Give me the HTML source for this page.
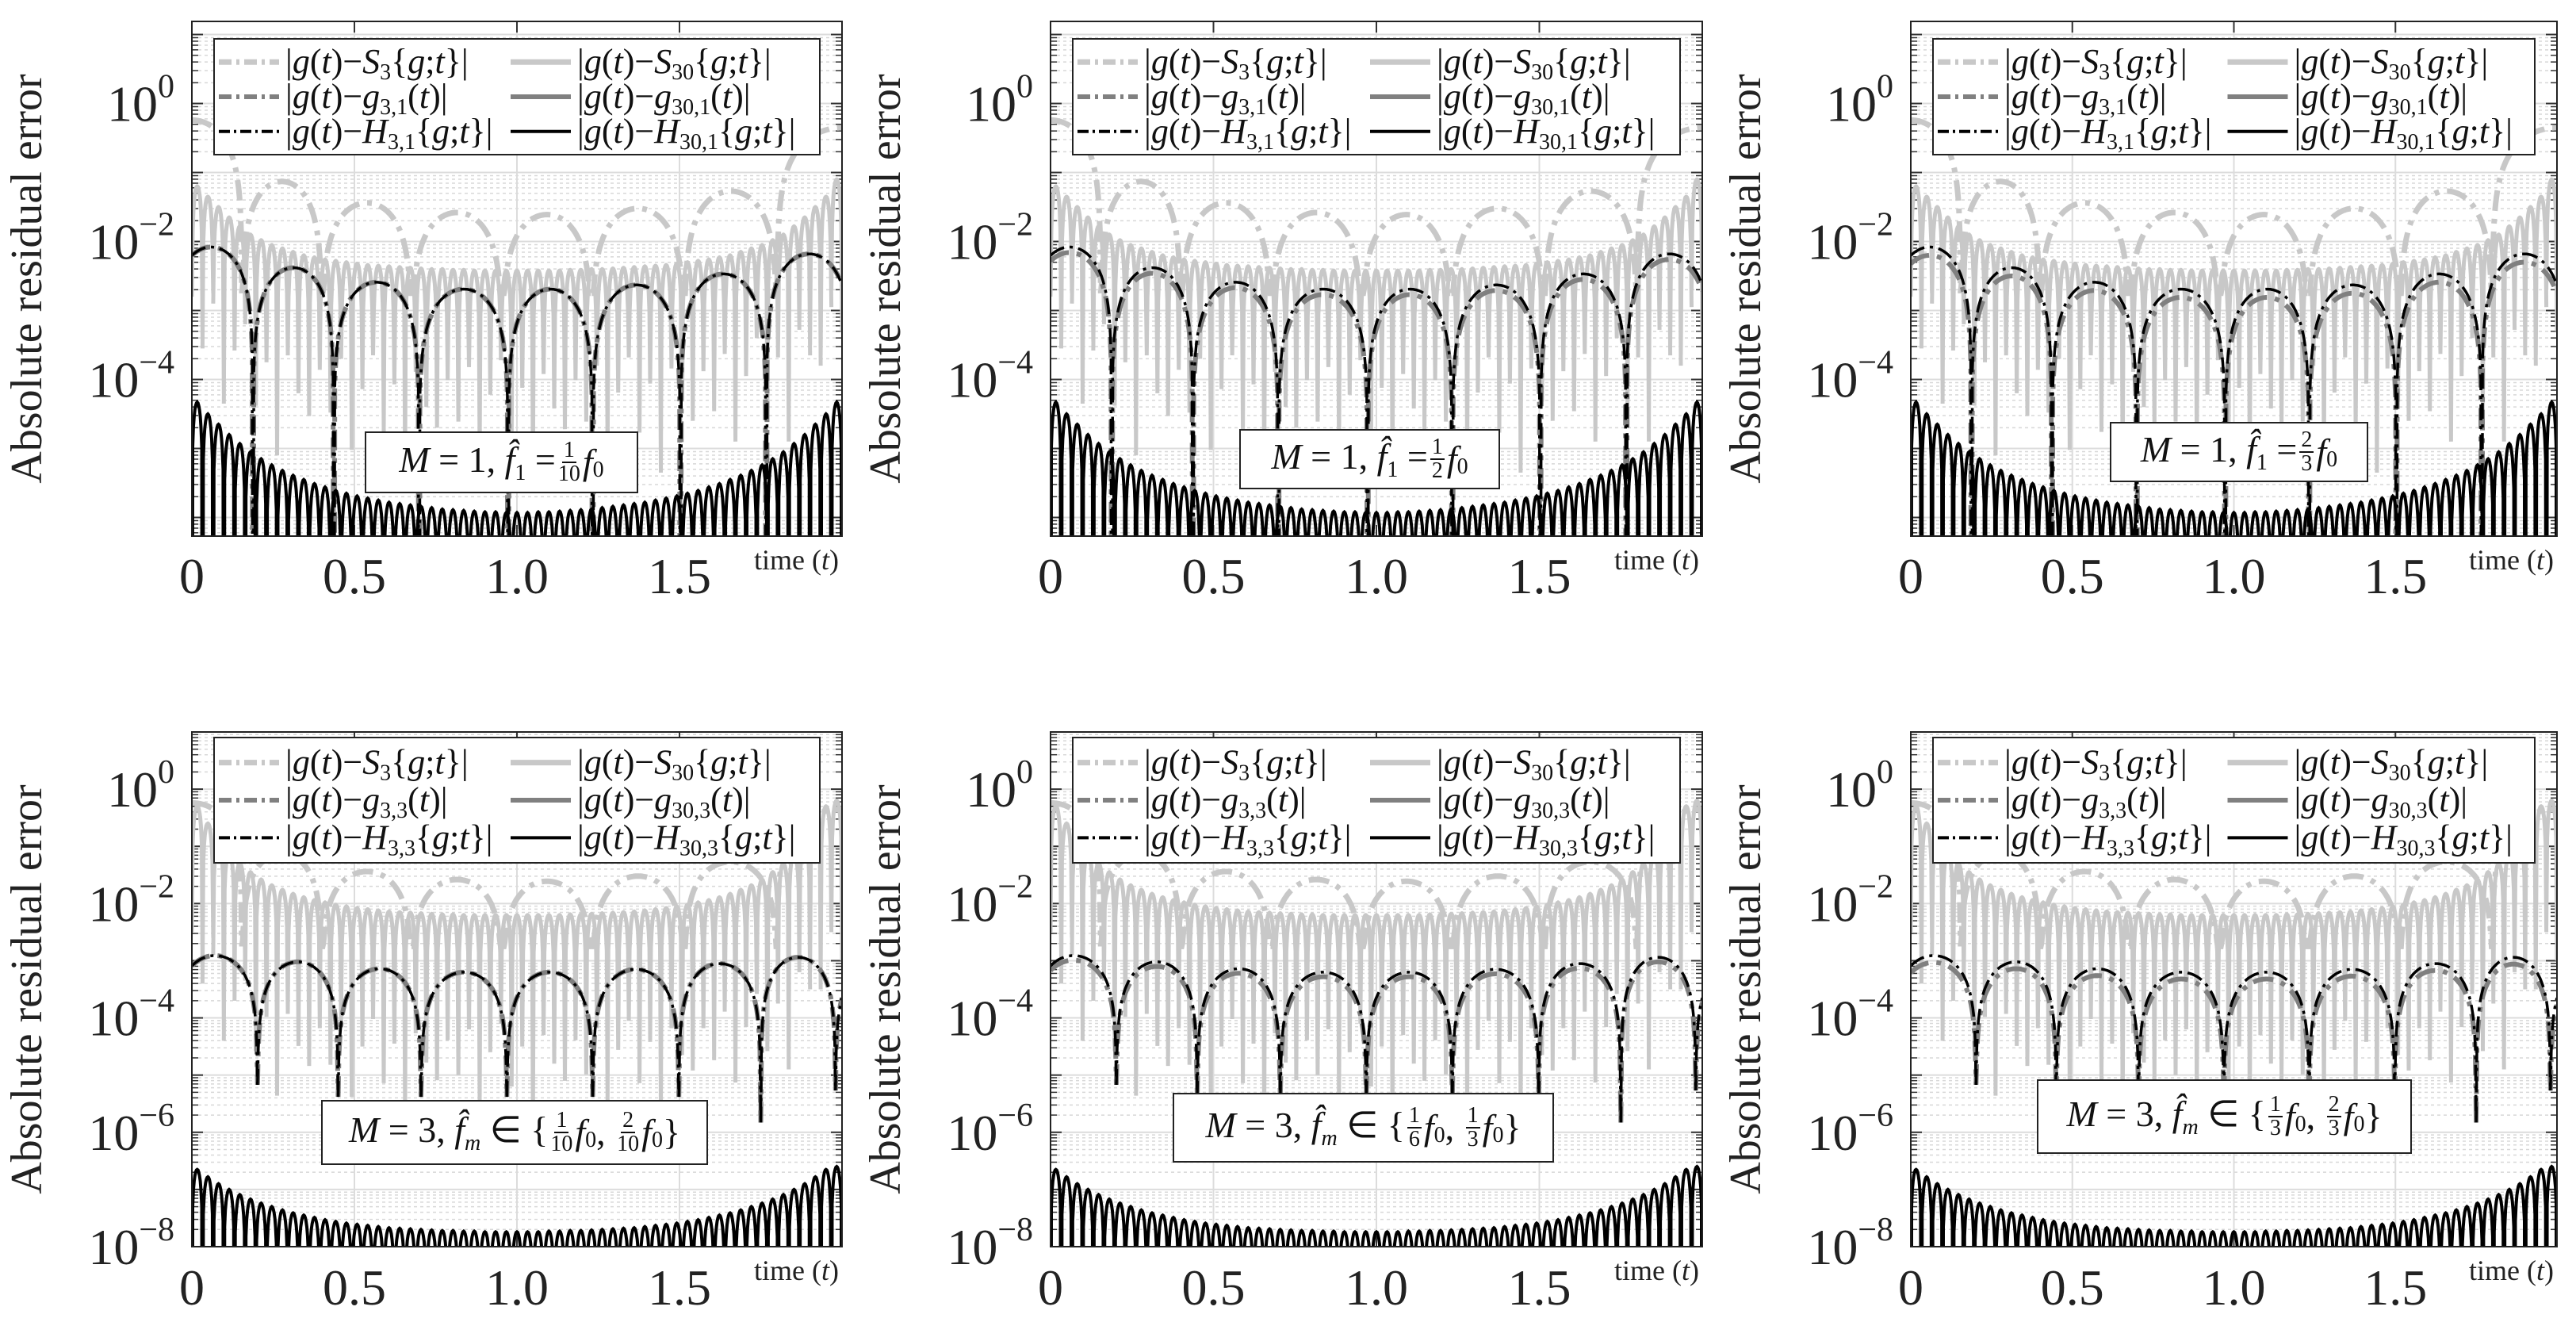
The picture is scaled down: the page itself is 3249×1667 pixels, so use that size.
<!DOCTYPE html>
<html><head><meta charset="utf-8">
<style>
html,body{margin:0;padding:0;background:#fff;width:3249px;height:1667px;overflow:hidden;}
#wrap{position:relative;width:3249px;height:1667px;overflow:hidden;font-family:"Liberation Serif",serif;}
svg{position:absolute;left:0;top:0;}
.ann{position:absolute;box-sizing:border-box;border:2px solid #222;background:#fff;display:flex;align-items:center;justify-content:center;font-family:"Liberation Serif",serif;font-size:46px;line-height:46px;color:#111;white-space:nowrap;overflow:hidden;}
.fr{display:inline-flex;flex-direction:column;align-items:center;font-size:28px;line-height:28px;vertical-align:middle;margin:0 3px;}
.fr span:first-child{border-bottom:2px solid #111;padding:0 2px;}
.sb{font-size:28px;position:relative;top:10px;}
i{font-style:italic;}
</style></head>
<body>
<div id="wrap">
<svg id="svg" width="3249" height="1667"></svg>

<div class="ann" style="left:460px;top:544px;width:345px;height:78px;"><span><i>M</i> = 1, <i>f̂</i><span class="sb">1</span> = </span><span class="fr"><span>1</span><span>10</span></span><i>f</i><span class="sb">0</span></div>
<div class="ann" style="left:1563px;top:541px;width:329px;height:76px;"><span><i>M</i> = 1, <i>f̂</i><span class="sb">1</span> = </span><span class="fr"><span>1</span><span>2</span></span><i>f</i><span class="sb">0</span></div>
<div class="ann" style="left:2661px;top:532px;width:326px;height:76px;"><span><i>M</i> = 1, <i>f̂</i><span class="sb">1</span> = </span><span class="fr"><span>2</span><span>3</span></span><i>f</i><span class="sb">0</span></div>
<div class="ann" style="left:405px;top:1387px;width:488px;height:82px;"><span><i>M</i> = 3, <i>f̂</i><span class="sb"><i>m</i></span> ∈ {</span><span class="fr"><span>1</span><span>10</span></span><i>f</i><span class="sb">0</span>,&nbsp;<span class="fr"><span>2</span><span>10</span></span><i>f</i><span class="sb">0</span>}</div>
<div class="ann" style="left:1479px;top:1378px;width:481px;height:88px;"><span><i>M</i> = 3, <i>f̂</i><span class="sb"><i>m</i></span> ∈ {</span><span class="fr"><span>1</span><span>6</span></span><i>f</i><span class="sb">0</span>,&nbsp;<span class="fr"><span>1</span><span>3</span></span><i>f</i><span class="sb">0</span>}</div>
<div class="ann" style="left:2569px;top:1361px;width:473px;height:94px;"><span><i>M</i> = 3, <i>f̂</i><span class="sb"><i>m</i></span> ∈ {</span><span class="fr"><span>1</span><span>3</span></span><i>f</i><span class="sb">0</span>,&nbsp;<span class="fr"><span>2</span><span>3</span></span><i>f</i><span class="sb">0</span>}</div>
</div>
<script>
// ---- data (log10 of absolute error) ----
const xTicks = [0, 0.5, 1.0, 1.5];
const xTickLabels = ["0", "0.5", "1.0", "1.5"];
const topYTicks = [0, -2, -4];
const botYTicks = [0, -2, -4, -6, -8];
const s3Zeros = [-0.154, 0.154, 0.40, 0.676, 0.955, 1.23, 1.515, 1.80, 2.2];
const s3Peaks = [-0.24, -1.13, -1.44, -1.58, -1.61, -1.52, -1.27, -0.35];
const h3TopZeros = [-0.07, 0.188, 0.437, 0.699, 0.973, 1.233, 1.503, 1.767, 2.03];
const h3TopPeaks = [-2.08, -2.38, -2.59, -2.69, -2.69, -2.63, -2.47, -2.18];
const h3BotZeros = [-0.06, 0.202, 0.45, 0.705, 0.969, 1.233, 1.498, 1.75, 1.98, 2.2];
const h3BotPeaks = [-2.91, -3.02, -3.14, -3.2, -3.2, -3.15, -3.05, -2.94, -3.1];
const h3BotDips = [-5.17, -5.38, -5.38, -5.38, -5.38, -5.38, -5.83, -5.27];
const g3Offset = [0, -0.08, -0.12];
const s30Top = [-1.2,-1.35,-1.5,-1.65,-1.78,-1.9,-1.98,-2.05,-2.1,-2.15,-2.2,-2.23,-2.26,-2.28,-2.3,-2.32,-2.34,-2.35,-2.36,-2.37,-2.38,-2.39,-2.4,-2.4,-2.41,-2.41,-2.42,-2.42,-2.42,-2.42,-2.42,-2.42,-2.42,-2.42,-2.42,-2.41,-2.41,-2.4,-2.4,-2.39,-2.38,-2.37,-2.36,-2.35,-2.34,-2.32,-2.3,-2.28,-2.26,-2.23,-2.2,-2.15,-2.1,-2.05,-1.98,-1.9,-1.78,-1.65,-1.5,-1.35,-1.1];
const s30Bot = [-0.3,-0.6,-0.9,-1.1,-1.3,-1.45,-1.58,-1.68,-1.76,-1.83,-1.89,-1.94,-1.98,-2.02,-2.05,-2.08,-2.1,-2.12,-2.14,-2.15,-2.16,-2.17,-2.18,-2.19,-2.19,-2.2,-2.2,-2.2,-2.2,-2.2,-2.2,-2.2,-2.2,-2.2,-2.2,-2.19,-2.19,-2.18,-2.17,-2.16,-2.15,-2.14,-2.12,-2.1,-2.08,-2.05,-2.02,-1.98,-1.94,-1.89,-1.83,-1.76,-1.68,-1.58,-1.45,-1.3,-1.1,-0.9,-0.6,-0.3,-0.2];
const s30Depth = [1.0, 1.6, 0.8, 2.1, 1.2, 0.7, 1.8, 1.1, 2.4, 0.9, 1.4, 1.7];
const h30Top = [-4.33,-4.5,-4.65,-4.8,-4.93,-5.05,-5.15,-5.24,-5.32,-5.39,-5.45,-5.51,-5.56,-5.61,-5.65,-5.69,-5.72,-5.75,-5.78,-5.8,-5.82,-5.84,-5.86,-5.88,-5.89,-5.9,-5.91,-5.92,-5.92,-5.93,-5.93,-5.93,-5.92,-5.92,-5.91,-5.9,-5.89,-5.88,-5.86,-5.84,-5.82,-5.8,-5.78,-5.75,-5.72,-5.69,-5.65,-5.61,-5.56,-5.51,-5.45,-5.39,-5.32,-5.24,-5.15,-5.05,-4.93,-4.8,-4.65,-4.5,-4.33];
const h30Bot = [-6.65,-6.78,-6.9,-7.0,-7.09,-7.17,-7.24,-7.3,-7.36,-7.41,-7.45,-7.49,-7.53,-7.56,-7.59,-7.61,-7.63,-7.65,-7.67,-7.68,-7.69,-7.7,-7.71,-7.72,-7.72,-7.73,-7.73,-7.74,-7.74,-7.74,-7.74,-7.74,-7.74,-7.73,-7.73,-7.72,-7.72,-7.71,-7.7,-7.69,-7.68,-7.67,-7.65,-7.63,-7.61,-7.59,-7.56,-7.53,-7.49,-7.45,-7.41,-7.36,-7.3,-7.24,-7.17,-7.09,-7.0,-6.9,-6.78,-6.65,-6.6];
const legendSubs = [["3","30"],["3,1","30,1"],["3,3","30,3"]];

const NS = "http://www.w3.org/2000/svg";
const svg = document.getElementById('svg');
const cols = [[242,1062],[1325,2147],[2410,3225]];
const rows = [{y0:27,y1:676,top:1.19,bot:-6.27,ticks:topYTicks,legY:49,legH:146,lab:748},
              {y0:923,y1:1572,top:1.0,bot:-8,ticks:botYTicks,legY:930,legH:158,lab:1645}];
function mk(tag, attrs, parent){const e=document.createElementNS(NS,tag);for(const k in attrs)e.setAttribute(k,attrs[k]);(parent||svg).appendChild(e);return e;}

function archPath(zeros, peaks, floorFn, sx, sy){
  let d="";
  for(let i=0;i<peaks.length;i++){
    const za=zeros[i], zb=zeros[i+1];
    const a=Math.max(za,0), b=Math.min(zb,2);
    if(b<=a) continue;
    const n=Math.max(8,Math.ceil((b-a)*400));
    for(let k=0;k<=n;k++){
      const t=a+(b-a)*k/n;
      const u=(t-za)/(zb-za);
      let v=peaks[i]+Math.log10(Math.max(Math.sin(Math.PI*u),1e-12));
      v=Math.max(v,floorFn(i,u));
      d+=(k===0?"M":"L")+sx(t).toFixed(1)+","+sy(v).toFixed(1);
    }
  }
  return d;
}
function lobeZeros(n){const z=[];for(let i=0;i<=n;i++)z.push(2*i/n);return z;}

rows.forEach((R,ri)=>{
  cols.forEach((C,ci)=>{
    const x0=C[0],x1=C[1],y0=R.y0,y1=R.y1;
    const sx=t=>x0+(x1-x0)*t/2;
    const sy=v=>y0+(y1-y0)*(R.top-v)/(R.top-R.bot);
    const g=mk('g',{});
    
    
    const cid='clip'+ri+ci;
    const cp=mk('clipPath',{id:cid},g);mk('rect',{x:x0,y:y0,width:x1-x0,height:y1-y0},cp);
    const grid=mk('g',{},g);
    
    
    for(let dcd=Math.floor(R.bot);dcd<=Math.ceil(R.top);dcd++){
      for(let m=2;m<=9;m++){const v=dcd+Math.log10(m);if(v<R.bot||v>R.top)continue;
        mk('line',{x1:x0,x2:x1,y1:sy(v),y2:sy(v),stroke:'#d8d8d8','stroke-width':1.5,'stroke-dasharray':'4,4'},grid);
        mk('line',{x1:x0,x2:x0+8,y1:sy(v),y2:sy(v),stroke:'#333','stroke-width':1.5},grid);
        mk('line',{x1:x1-8,x2:x1,y1:sy(v),y2:sy(v),stroke:'#333','stroke-width':1.5},grid);}
      if(dcd>=R.bot&&dcd<=R.top){
        mk('line',{x1:x0,x2:x1,y1:sy(dcd),y2:sy(dcd),stroke:'#dcdcdc','stroke-width':2},grid);
        mk('line',{x1:x0,x2:x0+14,y1:sy(dcd),y2:sy(dcd),stroke:'#333','stroke-width':2},grid);
        mk('line',{x1:x1-14,x2:x1,y1:sy(dcd),y2:sy(dcd),stroke:'#333','stroke-width':2},grid);}
    }
    xTicks.forEach(t=>{
      mk('line',{x1:sx(t),x2:sx(t),y1:y0,y2:y1,stroke:'#dcdcdc','stroke-width':2},grid);
      mk('line',{x1:sx(t),x2:sx(t),y1:y0,y2:y0+14,stroke:'#333','stroke-width':2},grid);
      mk('line',{x1:sx(t),x2:sx(t),y1:y1-14,y2:y1,stroke:'#333','stroke-width':2},grid);
    });
    const plot=mk('g',{'clip-path':'url(#'+cid+')'},g);
    const topRow=ri===0;
    const h3Z=topRow?h3TopZeros:h3BotZeros, h3P=topRow?h3TopPeaks:h3BotPeaks;
    const h3Floor=topRow?(()=>-99):((i,u)=>{const j=u<0.5?i-1:i;return h3BotDips[Math.max(0,Math.min(h3BotDips.length-1,j))];});
    const s30=topRow?s30Top:s30Bot, h30=topRow?h30Top:h30Bot;
    const s30Floor=(i,u)=>{const j=u<0.5?i:i+1;return s30[Math.min(i,s30.length-1)]-s30Depth[j%s30Depth.length]-(topRow?0.6:1.2);};
    const p1=mk('path',{d:archPath(lobeZeros(s30.length),s30,s30Floor,sx,sy),fill:'none',stroke:'#c8c8c8','stroke-width':5,'stroke-linejoin':'round'},plot);
    
    
    const p2=mk('path',{d:archPath(s3Zeros,s3Peaks,()=>-2.75,sx,sy),fill:'none',stroke:'#c8c8c8','stroke-width':7,'stroke-dasharray':'26,10,6,10'},plot);
    
    
    const gP=h3P.map(v=>v+g3Offset[ci]);
    const p3=mk('path',{d:archPath(h3Z,gP,h3Floor,sx,sy),fill:'none',stroke:'#808080','stroke-width':6,'stroke-dasharray':'26,10,6,10'},plot);
    
    
    const p4=mk('path',{d:archPath(lobeZeros(h30.length),h30,()=>-99,sx,sy),fill:'none',stroke:'#000','stroke-width':4},plot);
    
    
    const p5=mk('path',{d:archPath(h3Z,h3P,h3Floor,sx,sy),fill:'none',stroke:'#000','stroke-width':3.5,'stroke-dasharray':'20,7,4,7'},plot);
    
    
    const box=mk('rect',{x:x0,y:y0,width:x1-x0,height:y1-y0,fill:'none',stroke:'#222','stroke-width':2},g);
    
    
    R.ticks.forEach(v=>{
      const tx=mk('text',{x:x0-22,y:sy(v)+22,'text-anchor':'end','font-size':64,fill:'#222','font-family':'Liberation Serif, serif'},g);
      
      
      tx.appendChild(document.createTextNode('10'));
      const sp=mk('tspan',{dy:-30,'font-size':42},tx);sp.textContent=(v===0?'0':'−'+(-v));
    });
    xTicks.forEach((t,k)=>{
      const tx=mk('text',{x:sx(t),y:R.lab,'text-anchor':'middle','font-size':64,fill:'#222','font-family':'Liberation Serif, serif'},g);
      
      
      tx.textContent=xTickLabels[k];
    });
    const tl=mk('text',{x:x1-4,y:y1+42,'text-anchor':'end','font-size':36,fill:'#222','font-family':'Liberation Serif, serif'},g);
    
    
    tl.innerHTML='time (<tspan font-style="italic">t</tspan>)';
    const yl=mk('text',{x:0,y:0,transform:'translate('+(x0-190)+','+((y0+y1)/2)+') rotate(-90)','text-anchor':'middle','font-size':56,fill:'#222','font-family':'Liberation Serif, serif'},g);
    
    
    yl.textContent='Absolute residual error';
    const lx0=x0+28, lx1=x1-28, ly=R.legY, lh=R.legH;
    const lg=mk('g',{},g);
    
    
    mk('rect',{x:lx0,y:ly,width:lx1-lx0,height:lh,fill:'#fff',stroke:'#222','stroke-width':2},lg);
    const styles=[{c:'#c8c8c8',w:7},{c:'#808080',w:6},{c:'#000',w:4}];
    const names=['S','g','H'];
    const W=lx1-lx0;
    for(let r=0;r<3;r++){
      const yy=ly+lh*(0.2+0.3*r);
      for(let c=0;c<2;c++){
        const lxs=lx0+(c===0?6:W*0.5-8);
        const ent=mk('g',{},lg);
        
        
        const ln=mk('line',{x1:lxs,x2:lxs+76,y1:yy,y2:yy,stroke:styles[r].c,'stroke-width':styles[r].w},ent);
        if(c===0) ln.setAttribute('stroke-dasharray',r===2?'14,5,3,5':'16,6,4,6');
        const sub = r===0 ? legendSubs[0][c] : legendSubs[ri+1][c];
        const tx=mk('text',{x:lxs+84,y:yy+14,'font-size':44,fill:'#111','font-family':'Liberation Serif, serif'},ent);
        let inner='|<tspan font-style="italic">g</tspan>(<tspan font-style="italic">t</tspan>)−<tspan font-style="italic">'+names[r]+'</tspan><tspan font-size="28" dy="8">'+sub+'</tspan><tspan dy="-8">';
        inner+= r===1 ? '(<tspan font-style="italic">t</tspan>)|</tspan>' : '{<tspan font-style="italic">g</tspan>;<tspan font-style="italic">t</tspan>}|</tspan>';
        tx.innerHTML=inner;
      }
    }
  });
});
</script>
</body></html>
